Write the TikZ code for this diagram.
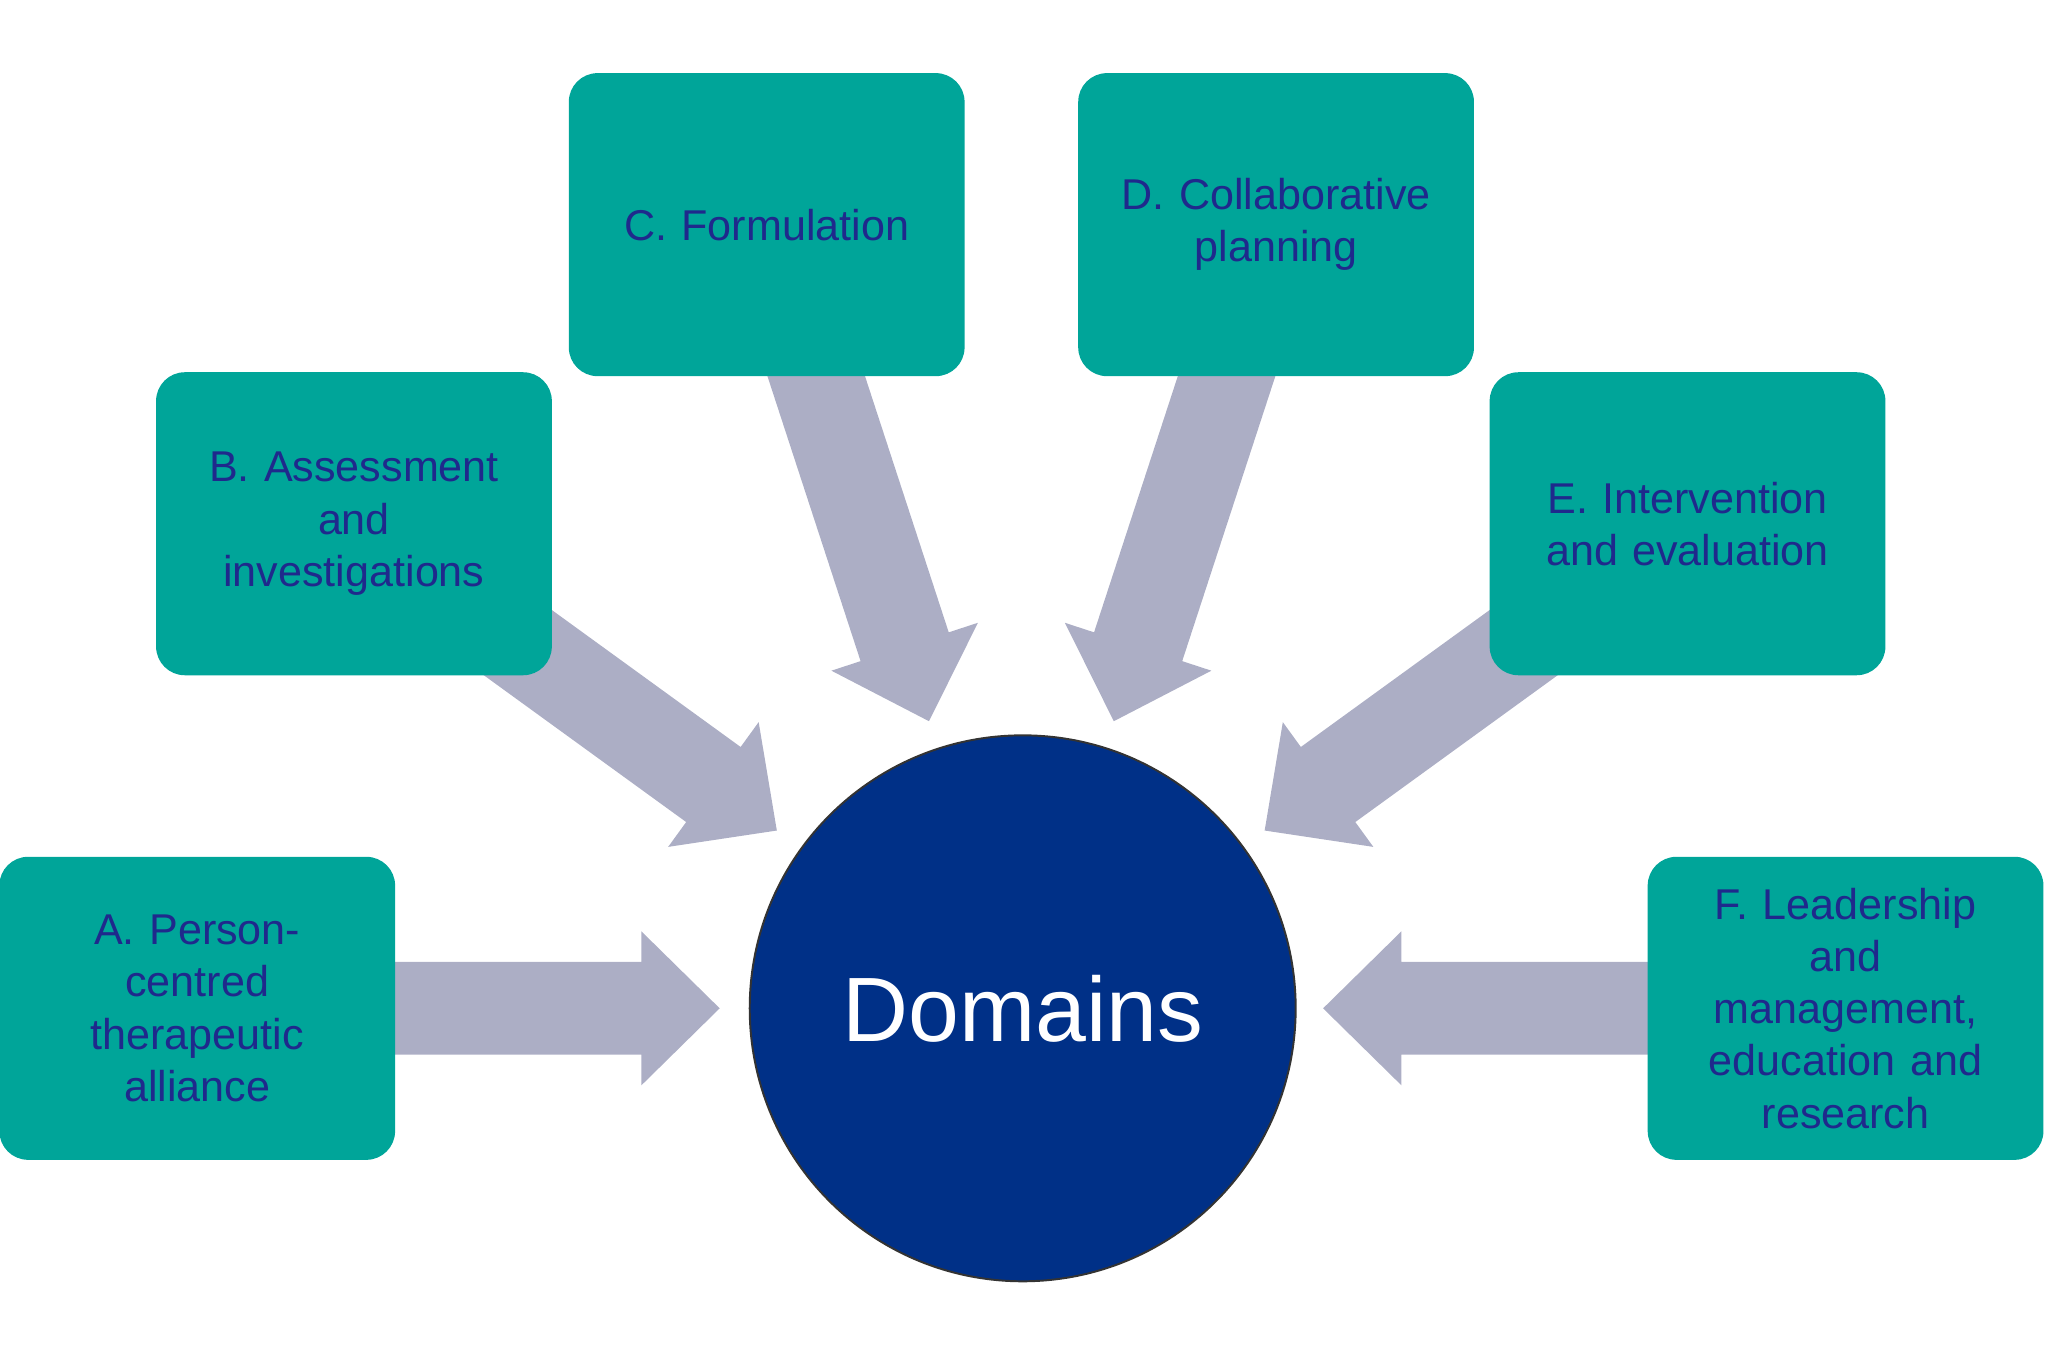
\documentclass[tikz,border=0pt]{standalone}
\usepackage{fontspec}
\setmainfont{Liberation Sans}
\usepackage{tikz}
\usetikzlibrary{positioning}
\definecolor{tealbox}{rgb}{0.,0.647,0.6}
\definecolor{navytxt}{rgb}{0.12,0.16,0.55}
\definecolor{navyfill}{rgb}{0.,0.188,0.53}
\definecolor{greyarrow}{rgb}{0.675,0.682,0.773}
\tikzset{
  domainbox/.style={fill=tealbox,rounded corners=22pt,minimum width=303pt,minimum height=232pt,
    text width=290pt,align=center,text=navytxt,font=\fontsize{33}{40}\selectfont,inner sep=0pt},
  hub/.style={circle,draw=black!80,line width=1.5pt,fill=navyfill,minimum size=418pt,
    text=white,font=\fontsize{70}{80}\selectfont}
}
% block arrow from (#1), pointing at angle #2
\newcommand{\blockarrow}[2]{
  \fill[greyarrow,shift={(#1)},rotate=#2] (0,-35.5) -- (340,-35.5) -- (340,-59) -- (400,0)
    -- (340,59) -- (340,35.5) -- (0,35.5) -- cycle;
}
\begin{document}
\begin{tikzpicture}[line cap=round,line join=round,x=1pt,y=1pt]
\useasboundingbox (0,0) rectangle (1568,1036);
\coordinate (ca) at (151,264);
\coordinate (cb) at (271,635);
\coordinate (cc) at (587,864);
\coordinate (cd) at (977,864);
\coordinate (ce) at (1292,635);
\coordinate (cf) at (1413,264);
\blockarrow{ca}{0}
\blockarrow{cb}{-35.96}
\blockarrow{cc}{-71.9}
\blockarrow{cd}{-108.1}
\blockarrow{ce}{-144.04}
\blockarrow{cf}{180}
\node[domainbox] (a) at (ca) {A. Person-\\centred\\therapeutic\\alliance};
\node[domainbox] (b) at (cb) {B. Assessment\\and\\investigations};
\node[domainbox] (c) at (cc) {C. Formulation};
\node[domainbox] (d) at (cd) {D. Collaborative\\planning};
\node[domainbox] (e) at (ce) {E. Intervention\\and evaluation};
\node[domainbox] (f) at (cf) {F. Leadership\\and\\management,\\education and\\research};
\node[hub] (dom) at (783,264) {Domains};
\end{tikzpicture}
\end{document}
